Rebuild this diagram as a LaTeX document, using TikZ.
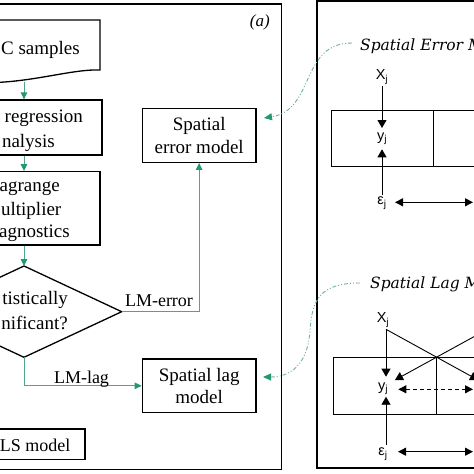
\documentclass[tikz,border=0pt]{standalone}
\usepackage{fontspec}
\setmainfont{Liberation Serif}
\newfontfamily\lsans{Liberation Sans}
\newfontfamily\dvserif{DejaVu Serif}
\usetikzlibrary{arrows.meta}
\definecolor{tealline}{RGB}{78,165,138}
\definecolor{tealtip}{RGB}{35,152,116}
\definecolor{tealdash}{RGB}{110,178,160}
\begin{document}
\begin{tikzpicture}[x=1pt,y=-1pt,
  boxn/.style={draw=black, line width=1.3pt, inner sep=0pt, rectangle},
  lbl/.style={font=\fontsize{19}{22.7}\selectfont, inner sep=0pt},
  lbls/.style={font=\fontsize{18}{21}\selectfont, inner sep=0pt},
  flow/.style={draw=tealline, line width=0.9pt, -{Triangle[length=7pt,width=6.5pt,color=tealtip]}},
  link/.style={draw=tealdash, line width=0.9pt, dash pattern=on 4pt off 2pt on 1pt off 2pt on 1pt off 2pt, -{Triangle[length=8pt,width=7pt,color=tealtip]}},
  var/.style={font=\lsans\fontsize{14.5}{16}\selectfont, inner sep=0pt},
  blk/.style={line width=0.9pt, -{Triangle[length=8pt,width=9pt]}},
  dbl/.style={line width=0.9pt, {Triangle[length=8pt,width=8pt]}-{Triangle[length=8pt,width=8pt]}},
  ttl/.style={font=\dvserif\itshape\fontsize{15.5}{18}\selectfont, inner sep=0pt, anchor=base west},
  thin/.style={line width=0.9pt}]
\useasboundingbox (0,0) rectangle (474,474);
\clip (0,0) rectangle (474,474);
\fill[white] (0,0) rectangle (474,474);

% ---------- panel (a) ----------
\draw[line width=1.4pt] (-5,4) rectangle (281.7,469.5);
\node[font=\itshape\fontsize{17}{20}\selectfont, anchor=base east, inner sep=0pt] (pa) at (270,26) {(a)};

% document shape
\draw[line width=1.3pt] (-10,20) -- (100,20) -- (100,70) .. controls (75,69) and (40,80) .. (0,82.3) -- (-10,82.5);
\coordinate (docb) at (24,81.5);
\node[lbl, anchor=base east] (t1) at (80,54) {C samples};

% regression box
\node[boxn, minimum width=156pt, minimum height=55pt] (reg) at (24,127.5) {};
\node[lbl, anchor=base east] (t2a) at (83,122) {regression};
\node[lbl, anchor=base east] (t2b) at (55,147) {nalysis};

% LM diagnostics box
\node[boxn, minimum width=152pt, minimum height=73.3pt] (lmd) at (24,208.35) {};
\node[lbl, anchor=base east] (t3a) at (60,191) {agrange};
\node[lbl, anchor=base east] (t3b) at (61.5,215) {ultiplier};
\node[lbl, anchor=base east] (t3c) at (70,237) {agnostics};

% decision diamond
\coordinate (dT) at (24,266);
\coordinate (dR) at (121.7,311.7);
\coordinate (dB) at (24,357.3);
\coordinate (dL) at (-73.7,311.7);
\draw[line width=1.3pt] (dT) -- (dR) -- (dB) -- (dL) -- cycle;
\node[lbl, anchor=base east] (t4a) at (68,304) {tistically};
\node[lbl, anchor=base east] (t4b) at (68,329) {nificant?};

% model boxes
\node[boxn, lbl, align=center, minimum width=113.7pt, minimum height=54pt] (err) at (199.15,135.3) {Spatial\\error model};
\node[boxn, lbl, align=center, minimum width=113.7pt, minimum height=53.7pt] (lag) at (199.15,385.85) {Spatial lag\\model};
\node[boxn, minimum width=122pt, minimum height=30.7pt] (ols) at (24,444.35) {};
\node[lbls, anchor=base east] (t5) at (70.5,451) {LS model};

% flow connectors
\draw[flow] (docb) -- (reg.north);
\draw[flow] (reg.south) -- (lmd.north);
\draw[flow] (lmd.south) -- (dT);
\draw[flow] (dR) -| (err.south);
\draw[flow] (dB) |- (lag.west);
\node[lbls, anchor=base] (lerr) at (159,306) {LM-error};
\node[lbls, anchor=base] (llag) at (81.5,383) {LM-lag};

% ---------- panel (b) ----------
\draw[line width=2.3pt] (316.8,1.3) rectangle (490,467.7);

% spatial error model
\node[ttl] (te) at (360,50) {Spatial Error M};
\draw[thin] (331,110.7) rectangle (490,166);
\draw[thin] (433.3,110.7) -- (433.3,166);
\node[var] (Xe) at (382,77) {X\textsubscript{j}};
\node[var] (ye) at (382,139) {y\textsubscript{j}};
\node[var] (ee) at (382,203) {ε\textsubscript{j}};
\coordinate (xe1) at (382,86);
\coordinate (xe2) at (382,128);
\coordinate (ee1) at (382,195);
\coordinate (ee2) at (382,149.3);
\coordinate (he1) at (395,202.3);
\coordinate (he2) at (473,202.3);
\draw[blk] (xe1) -- (xe2);
\draw[blk] (ee1) -- (ee2);
\draw[dbl] (he1) -- (he2);

% spatial lag model
\node[ttl] (tl) at (370,288) {Spatial Lag M};
\draw[thin] (333.3,357.3) rectangle (490,414.3);
\draw[thin] (436.7,357.3) -- (436.7,414.3);
\node[var] (Xl) at (383,320) {X\textsubscript{j}};
\node[var] (yl) at (383,389) {y\textsubscript{j}};
\node[var] (el) at (383,454) {ε\textsubscript{j}};
\coordinate (c0) at (386,329.3);
\coordinate (c1) at (386,376.7);
\coordinate (c2) at (478,380);
\coordinate (c3) at (487.4,329.3);
\coordinate (c4) at (395,380);
\coordinate (c5) at (386,445);
\coordinate (c6) at (386,396.7);
\coordinate (d1) at (398.3,389.3);
\coordinate (d2) at (473,389.3);
\coordinate (h1) at (398,451.7);
\coordinate (h2) at (473,451.7);
\draw[blk] (c0) -- (c1);
\draw[blk] (c0) -- (c2);
\draw[blk] (c3) -- (c4);
\draw[dbl, dash pattern=on 4pt off 3pt] (d1) -- (d2);
\draw[blk] (c5) -- (c6);
\draw[dbl] (h1) -- (h2);

% links between panels
\coordinate (es) at (352,43);
\coordinate (ea) at (264,118);
\coordinate (ls) at (360,283);
\coordinate (lm) at (310,330);
\coordinate (la) at (263,377);
\draw[link] (es) .. controls (300,43) and (315,110) .. (ea);
\draw[link] (ls) .. controls (320,283) and (312,300) .. (lm) .. controls (308,365) and (290,377) .. (la);
\end{tikzpicture}
\end{document}
